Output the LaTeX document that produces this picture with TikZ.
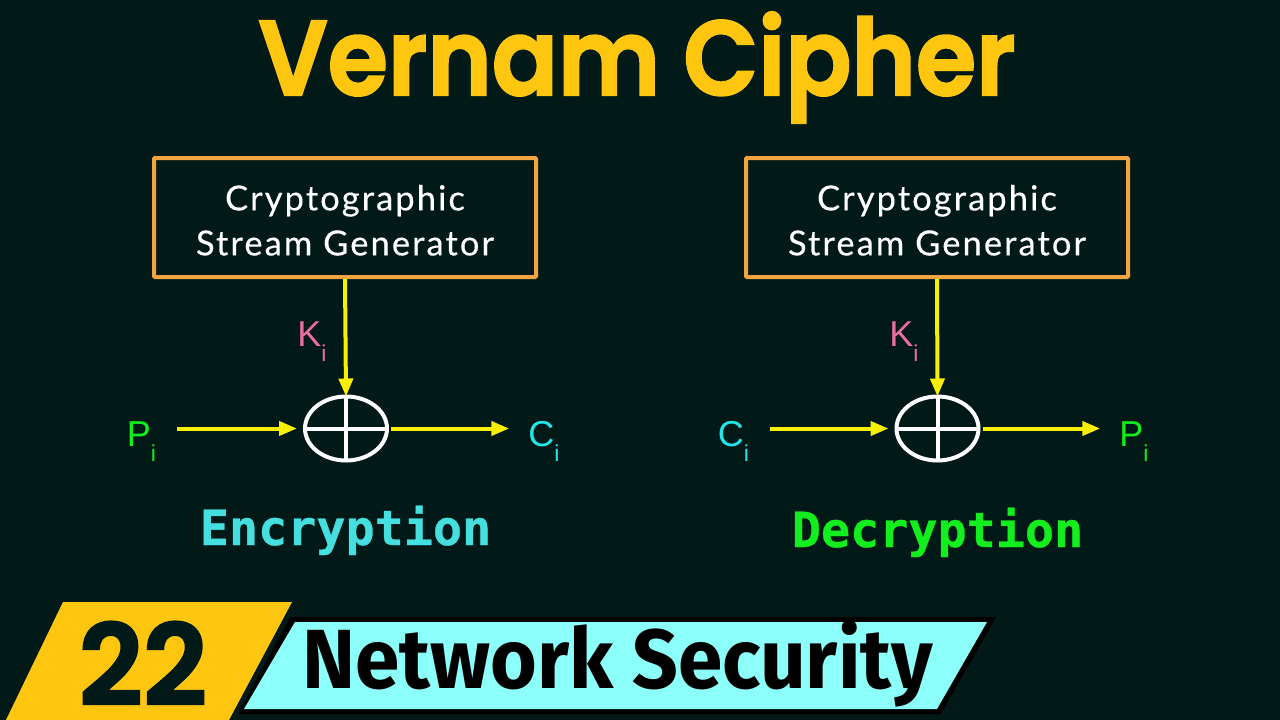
\documentclass[tikz,border=0pt]{standalone}
\usepackage{fontspec}
\usepackage{xcolor}
\usetikzlibrary{arrows.meta,calc,positioning,shapes.geometric}
\setmainfont{Liberation Sans}
\newfontfamily\titlefont[FakeBold=2]{Poppins SemiBold}
\newfontfamily\boxfont[LetterSpace=6,FakeBold=0.3]{Lato}
\newfontfamily\modefont[FakeBold=0.6]{DejaVu Sans Mono Bold}
\newfontfamily\seriesfont{Fira Sans Bold}
\definecolor{bgdark}{HTML}{021A17}
\definecolor{titleyellow}{HTML}{FFC60F}
\definecolor{boxorange}{HTML}{F2A540}
\definecolor{flowyellow}{HTML}{FBEF00}
\definecolor{keypink}{HTML}{E86FA4}
\definecolor{plaingreen}{HTML}{12EE1E}
\definecolor{ciphercyan}{HTML}{22E6EA}
\definecolor{modecyan}{HTML}{45DFE0}
\definecolor{bannercyan}{HTML}{8CFFFA}
\newcommand{\symb}[2]{{\fontsize{36}{36}\selectfont #1\raisebox{-15pt}{\fontsize{23}{23}\selectfont #2}}}
\tikzset{
	genbox/.style={draw=boxorange,line width=4pt,rounded corners=1pt,minimum width=382pt,minimum height=119pt,align=center,text=white,font=\boxfont\fontsize{34.5}{45}\selectfont,inner sep=0pt},
	xorop/.style={ellipse,draw=white,line width=4pt,minimum width=82pt,minimum height=64pt,inner sep=0pt,outer sep=0pt},
	xorbar/.style={draw=white,line width=4pt},
	flow/.style={draw=flowyellow,line width=4pt,-{Triangle[length=18pt,width=14pt]}},
	symbol/.style={inner sep=0pt,anchor=base},
	modelabel/.style={inner sep=0pt,anchor=base,font=\modefont\fontsize{48.4}{48.4}\selectfont}
}
\begin{document}
\begin{tikzpicture}[x=1pt,y=-1pt]
	\useasboundingbox (0,0) rectangle (1280,720);
	\fill[bgdark] (0,0) rectangle (1280,720);
	% title
	\node[inner sep=0pt,anchor=base,text=titleyellow,xscale=.92,font=\titlefont\fontsize{106}{106}\selectfont] (title) at (637,95) {Vernam Cipher};
	% encryption side
	\node[genbox] (genenc) at (345,217.5) {\rule{0pt}{31pt}Cryptographic\\Stream Generator};
	\node[xorop] (xorenc) at (346,428.5) {};
	\draw[xorbar] (xorenc.west) to (xorenc.east);
	\draw[xorbar] (xorenc.north) to (xorenc.south);
	\node[symbol,text=keypink] (kenc) at (312,346) {\symb{K}{i}};
	\node[symbol,text=plaingreen] (penc) at (141.5,446) {\symb{P}{i}};
	\node[symbol,text=ciphercyan] (cenc) at (544,446) {\symb{C}{i}};
	\draw[flow] (genenc.south) to (xorenc.north);
	\draw[flow,shorten <=21pt,shorten >=8pt] (penc.east |- xorenc.west) to (xorenc.west);
	\draw[flow,shorten <=4pt,shorten >=19pt] (xorenc.east) to (cenc.west |- xorenc.east);
	\node[modelabel,text=modecyan] (modeenc) at (345.5,545) {Encryption};
	% decryption side
	\node[genbox] (gendec) at (937,217.5) {\rule{0pt}{31pt}Cryptographic\\Stream Generator};
	\node[xorop] (xordec) at (937.5,428.5) {};
	\draw[xorbar] (xordec.west) to (xordec.east);
	\draw[xorbar] (xordec.north) to (xordec.south);
	\node[symbol,text=keypink] (kdec) at (904,346) {\symb{K}{i}};
	\node[symbol,text=ciphercyan] (cdec) at (733.5,446) {\symb{C}{i}};
	\node[symbol,text=plaingreen] (pdec) at (1134,446) {\symb{P}{i}};
	\draw[flow] (gendec.south) to (xordec.north);
	\draw[flow,shorten <=21pt,shorten >=8pt] (cdec.east |- xordec.west) to (xordec.west);
	\draw[flow,shorten <=4pt,shorten >=19pt] (xordec.east) to (pdec.west |- xordec.east);
	\node[modelabel,text=plaingreen] (modedec) at (937.5,547) {Decryption};
	% banner
	\fill[titleyellow] (63,602) -- (292,602) -- (229,720) -- (6,720) -- cycle;
	\fill[black] (290,617) -- (996,617) -- (941,714) -- (238,714) -- cycle;
	\fill[bannercyan] (295,622) -- (987,622) -- (937,709) -- (244,709) -- cycle;
	\node[inner sep=0pt,anchor=base,text=bgdark,font=\titlefont\fontsize{112}{112}\selectfont] (series) at (143,705) {22};
	\node[inner sep=0pt,anchor=base,text=black,xscale=.953,font=\seriesfont\fontsize{84}{84}\selectfont] (course) at (617.5,688) {Network Security};
\end{tikzpicture}
\end{document}
